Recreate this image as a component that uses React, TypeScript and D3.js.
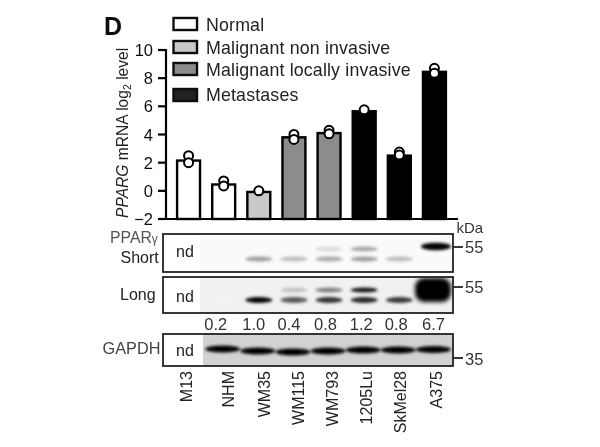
import React from "react";
import * as d3 from "d3";

const cellLines = ["M13", "NHM", "WM35", "WM115", "WM793", "1205Lu", "SkMel28", "A375"];
const barValues = [2.15, 0.45, -0.08, 3.8, 4.1, 5.65, 2.5, 8.45];
const replicatePoints = [[2.5, 2.0], [0.7, 0.35], [0.0], [4.0, 3.65], [4.3, 4.05], [5.75], [2.75, 2.55], [8.7, 8.35]];
const barGroups = [0, 0, 1, 2, 2, 3, 3, 3];
const groupNames = ["Normal", "Malignant non invasive", "Malignant locally invasive", "Metastases"];
const groupFills = ["#ffffff", "#c9c9c9", "#8c8c8c", "#000000"];
const yTicks = [-2, 0, 2, 4, 6, 8, 10];
const ratios = ["0.2", "1.0", "0.4", "0.8", "1.2", "0.8", "6.7"];
const shortLower = [0, 0, 0.38, 0.26, 0.34, 0.38, 0.26, 0];
const shortUpper = [0, 0, 0, 0, 0.14, 0.34, 0, 0];
const longLower = [0, 0.05, 1, 0.66, 0.8, 0.85, 0.78, 0];
const longUpper = [0, 0, 0.05, 0.24, 0.5, 0.92, 0.06, 0];
const gapdh = [0, 1, 1, 1, 1, 1, 1, 1];
const gapdhShift = [0, -1, 1, 2, 1, 0, 0, -0.5];

const x = d3.scaleBand<string>().domain(cellLines).range([171, 452]).paddingInner(0.29).paddingOuter(0.145);
const y = d3.scaleLinear().domain([-2, 10]).range([219, 50]);
const ink = d3.scaleLinear<string>().domain([0, 1]).range(["#ffffff", "#000000"]);
const cx = (i: number) => x(cellLines[i])! + x.bandwidth() / 2;

function Panel({ top, h, blotLeft = 200, bg }: { top: number; h: number; blotLeft?: number; bg: string }) {
  return (
    <g>
      <rect x={163} y={top} width={290} height={h} fill="#fff" />
      <rect x={blotLeft} y={top} width={453 - blotLeft} height={h} fill={bg} />
    </g>
  );
}

function Bands({ vals, yPos, bh, bw = 27, dx = 0, shifts }: { vals: number[]; yPos: number; bh: number; bw?: number; dx?: number; shifts?: number[] }) {
  return (
    <g filter="url(#bandBlur)">
      {vals.map((v, i) =>
        v > 0 ? <ellipse key={i} cx={cx(i) + dx} cy={yPos + (shifts ? shifts[i] : 0)} rx={bw / 2} ry={bh / 2} fill={ink(v)} /> : null
      )}
    </g>
  );
}

export default function App() {
  const base = y(-2);
  const labelDx = [-2.5, 5, 5, 4, 3, 2.5, 1, 1.5];
  const ratioDx = [-8, -5, -5, -3.5, -3, -3, -1];
  return (
    <svg width={600} height={447} style={{ position: "absolute", left: 0, top: 0, background: "#fff" }}
      fontFamily="'Liberation Sans', Arial, sans-serif">
      <defs>
        <filter id="soft" x="-5%" y="-5%" width="110%" height="110%"><feGaussianBlur stdDeviation="0.55" /></filter>
        <filter id="bandBlur" x="-20%" y="-100%" width="140%" height="300%"><feGaussianBlur stdDeviation="1.4" /></filter>
        <filter id="blobBlur" x="-30%" y="-30%" width="160%" height="160%"><feGaussianBlur stdDeviation="2" /></filter>
        <clipPath id="clipLong"><rect x={163} y={277} width={290} height={36} /></clipPath>
        <clipPath id="clipShort"><rect x={163} y={234} width={290} height={38} /></clipPath>
      </defs>
      <g filter="url(#soft)">
        <text x={104} y={34.5} fontSize={25} fontWeight="bold" fill="#111">D</text>

        {groupNames.map((name, i) => {
          const top = [18, 41, 63, 89][i];
          return (
            <g key={name}>
              <rect x={173.5} y={top} width={23.5} height={12} fill={i === 3 ? "#222" : groupFills[i]} stroke="#111" strokeWidth={2.4} />
              <text x={206} y={top + (i === 3 ? 12 : 13)} fontSize={17.8} letterSpacing={0.16} fill="#222">{name}</text>
            </g>
          );
        })}

        {cellLines.map((c, i) => {
          const v = barValues[i];
          const g = barGroups[i];
          return (
            <rect key={c} x={x(c)! + 1} y={y(v)} width={x.bandwidth() - 2} height={base - y(v)}
              fill={groupFills[g]} stroke="#000" strokeWidth={2.4} />
          );
        })}
        {replicatePoints.map((pts, i) =>
          pts.map((p, j) => (
            <circle key={j} cx={cx(i)} cy={y(p)} r={4.5} fill="#fff" stroke="#000" strokeWidth={2} />
          ))
        )}

        <line x1={166} x2={166} y1={49} y2={220} stroke="#000" strokeWidth={2.2} />
        <line x1={158} x2={458} y1={219} y2={219} stroke="#000" strokeWidth={2.2} />
        {yTicks.map((t) => (
          <g key={t}>
            <line x1={158} x2={166} y1={y(t)} y2={y(t)} stroke="#000" strokeWidth={2.2} />
            <text x={153} y={y(t) + 6} textAnchor="end" fontSize={16.5} fill="#111">{t === -2 ? "\u22122" : t}</text>
          </g>
        ))}
        <text transform="translate(128,218) rotate(-90)" fontSize={15.6} fill="#222">
          <tspan fontStyle="italic">PPARG</tspan> mRNA log<tspan fontSize={10.5} dy={3}>2</tspan><tspan dy={-3}> level</tspan>
        </text>

        <text x={456.5} y={233} fontSize={15} fill="#333">kDa</text>

        {/* Short exposure */}
        <Panel top={234} h={38} bg="#fafafa" />
        <g clipPath="url(#clipShort)">
          <Bands vals={shortLower} yPos={259} bh={5} />
          <Bands vals={shortUpper} yPos={249} bh={5} />
          <ellipse cx={436} cy={246.5} rx={15} ry={3.8} fill="#000" filter="url(#bandBlur)" />
        </g>
        <rect x={163} y={234} width={290} height={38} fill="none" stroke="#222" strokeWidth={1.8} />
        <text x={176} y={257} fontSize={16} fill="#222">nd</text>
        <text x={110} y={243} fontSize={15.8} fill="#555">PPAR<tspan fontSize={12}>γ</tspan></text>
        <text x={120.5} y={263} fontSize={16} fill="#222">Short</text>

        {/* Long exposure */}
        <Panel top={277} h={36} bg="#f1f1f1" />
        <g clipPath="url(#clipLong)">
          <Bands vals={longLower} yPos={300} bh={6} />
          <Bands vals={longUpper} yPos={290} bh={5} />
          <rect x={415} y={278} width={36} height={24} rx={9} fill="#000" filter="url(#blobBlur)" />
        </g>
        <rect x={163} y={277} width={290} height={36} fill="none" stroke="#222" strokeWidth={1.8} />
        <text x={176} y={302} fontSize={16} fill="#222">nd</text>
        <text x={120} y={300} fontSize={16} fill="#222">Long</text>

        {ratios.map((r, i) => (
          <text key={i} x={cx(i + 1) + ratioDx[i]} y={330} textAnchor="middle" fontSize={16.5} fill="#333">{r}</text>
        ))}

        {/* GAPDH */}
        <Panel top={334} h={32} blotLeft={203} bg="#d2d2d2" />
        <Bands vals={gapdh} yPos={350} bh={7} bw={35} dx={-1} shifts={gapdhShift} />
        <rect x={163} y={334} width={290} height={32} fill="none" stroke="#222" strokeWidth={1.8} />
        <text x={176} y={356} fontSize={16} fill="#222">nd</text>
        <text x={102.5} y={354} fontSize={16.3} fill="#444">GAPDH</text>

        {[[247, "55"], [287, "55"], [358, "35"]].map(([py, lab], i) => (
          <g key={i}>
            <line x1={453} x2={463} y1={py as number} y2={py as number} stroke="#222" strokeWidth={1.8} />
            <text x={465} y={(py as number) + (i === 2 ? 7 : 6)} fontSize={16.5} fill="#333">{lab}</text>
          </g>
        ))}

        {cellLines.map((c, i) => (
          <text key={c} transform={`translate(${cx(i) + labelDx[i] + 5.8},371) rotate(-90)`} textAnchor="end" fontSize={16} fill="#222">{c}</text>
        ))}
      </g>
    </svg>
  );
}
